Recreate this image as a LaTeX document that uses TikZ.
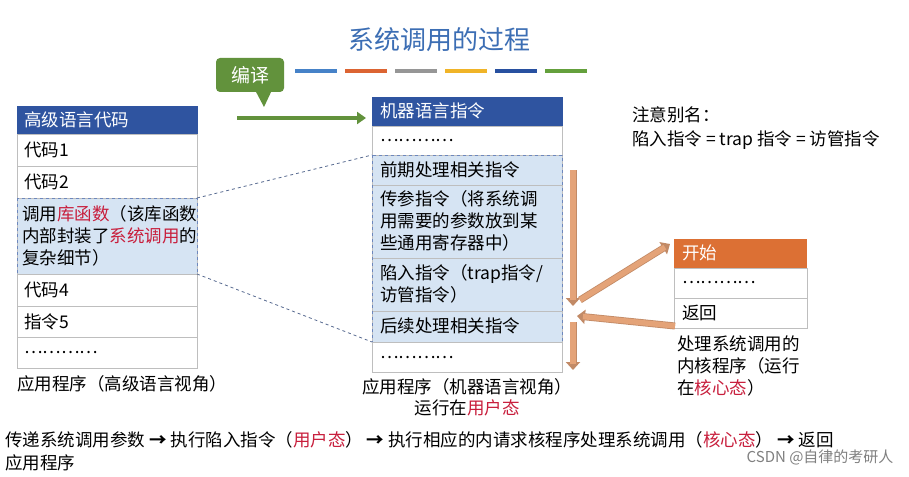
\documentclass[tikz,border=0pt]{standalone}
\usepackage{fontspec}
\setmainfont{Noto Sans CJK SC}
\usetikzlibrary{arrows.meta}
\definecolor{hblue}{RGB}{47,84,160}
\definecolor{lblue}{RGB}{214,228,243}
\definecolor{gline}{RGB}{190,190,190}
\definecolor{ggreen}{RGB}{98,146,60}
\definecolor{orng}{RGB}{228,163,120}
\definecolor{ohead}{RGB}{220,112,52}
\definecolor{kred}{RGB}{200,30,60}
\definecolor{ttl}{RGB}{60,110,180}
\definecolor{bcA}{RGB}{70,130,200}
\definecolor{bcB}{RGB}{220,100,50}
\definecolor{bcC}{RGB}{150,150,150}
\definecolor{bcD}{RGB}{240,180,40}
\definecolor{bcE}{RGB}{40,80,160}
\definecolor{bcF}{RGB}{100,160,60}
\tikzset{
 cell/.style={draw=gline,fill=white,line width=0.6pt},
 hdr/.style={fill=hblue,draw=hblue},
 hl/.style={fill=lblue,draw=gline},
 txt/.style={anchor=west,inner sep=0pt,font=\fontsize{17.5}{22}\selectfont},
 htxt/.style={txt,text=white},
}
\newcommand{\rd}[1]{\textcolor{kred}{#1}}
\begin{document}
\begin{tikzpicture}[x=1pt,y=-1pt]
\useasboundingbox (0,0) rectangle (909,476);
\fill[white] (0,0) rectangle (909,476);
\node[text=ttl,font=\fontsize{26}{30}\selectfont] (title) at (439,40) {系统调用的过程};
\foreach \x/\c in {295/bcA,345/bcB,395/bcC,445/bcD,495/bcE,545/bcF}{
 \fill[\c] (\x,69) rectangle ++(42,4);
}
% left table
\fill[hdr] (17,106) rectangle (197,134);
\node[htxt] (lh) at (24,120) {高级语言代码};
\draw[cell] (17,134) rectangle (197,166); \node[txt] (l1) at (24,150) {代码1};
\draw[cell] (17,166) rectangle (197,198); \node[txt] (l2) at (24,182) {代码2};
\draw[hl] (17,198) rectangle (197,274);
\draw[dashed,draw=hblue!70,line width=0.8pt] (17,198) rectangle (197,274);
\node[txt,align=left] (l3) at (22,236) {调用\rd{库函数}（该库函数\\内部封装了\rd{系统调用}的\\复杂细节）};
\draw[cell] (17,274) rectangle (197,306); \node[txt] (l4) at (24,290) {代码4};
\draw[cell] (17,306) rectangle (197,337); \node[txt] (l5) at (24,322) {指令5};
\draw[cell] (17,337) rectangle (197,368); \node[txt] (l6) at (24,353) {…………};
\node[txt] (lc) at (17,384) {应用程序（高级语言视角）};
% compile arrow & callout
\coordinate (ga) at (237,118); \coordinate (gb) at (366,118);
\draw[ggreen,line width=4pt,-{Triangle[length=9pt,width=12pt]}] (ga) -- (gb);
\fill[ggreen,rounded corners=4pt] (216,58) rectangle (284,92);
\fill[ggreen] (255,90) -- (272,90) -- (264,107) -- cycle;
\node[text=white,font=\fontsize{19}{22}\selectfont] (by) at (250,75) {编译};
% middle table
\fill[hdr] (372,97) rectangle (562,126);
\node[htxt] (mh) at (380,111) {机器语言指令};
\draw[cell] (372,126) rectangle (562,155); \node[txt] (m0) at (380,141) {…………};
\draw[hl] (372,155) rectangle (562,185); \node[txt] (m1) at (380,170) {前期处理相关指令};
\draw[hl] (372,185) rectangle (562,258); \node[txt,align=left] (m2) at (380,221) {传参指令（将系统调\\用需要的参数放到某\\些通用寄存器中）};
\draw[hl] (372,258) rectangle (562,311); \node[txt,align=left] (m3) at (380,284) {陷入指令（trap指令/\\访管指令）};
\draw[hl] (372,311) rectangle (562,342); \node[txt] (m4) at (380,326) {后续处理相关指令};
\draw[dashed,draw=hblue!70,line width=0.8pt] (372,155) rectangle (562,342);
\draw[cell] (372,342) rectangle (562,372); \node[txt] (m5) at (380,358) {…………};
\node[font=\fontsize{17.5}{22}\selectfont] (mc1) at (467,387) {应用程序（机器语言视角）};
\node[font=\fontsize{17.5}{22}\selectfont] (mc2) at (467,408) {运行在\rd{用户态}};
% zoom lines
\coordinate (z1) at (197,198); \coordinate (z2) at (372,155);
\coordinate (z3) at (197,274); \coordinate (z4) at (372,342);
\draw[dashed,draw=hblue!50!gray,line width=0.8pt] (z1) -- (z2) (z3) -- (z4);
% right table
\fill[ohead] (674,239) rectangle (807,268);
\node[htxt] (rh) at (682,253) {开始};
\draw[cell] (674,268) rectangle (807,298); \node[txt] (r1) at (682,283) {…………};
\draw[cell] (674,298) rectangle (807,328); \node[txt] (r2) at (682,313) {返回};
\node[txt,align=left,anchor=north west] (rc) at (677,336) {处理系统调用的\\内核程序（运行\\在\rd{核心态}）};
% orange arrows
\coordinate (a1) at (573,170); \coordinate (a2) at (573,306);
\coordinate (b1) at (580,300); \coordinate (b2) at (670,244);
\coordinate (c1) at (675,326); \coordinate (c2) at (577,316);
\coordinate (d1) at (573,322); \coordinate (d2) at (573,370);
\foreach \p/\q in {a1/a2,b1/b2,c1/c2,d1/d2}{
 \draw[orng!85!black,line width=7pt,-{Triangle[length=8pt,width=14pt]}] (\p) -- (\q);
 \draw[orng,line width=5.4pt,shorten >=6pt] (\p) -- (\q);
}
% note
\node[txt] (n1) at (632,115) {注意别名：};
\node[txt] (n2) at (632,140) {陷入指令 = trap 指令 = 访管指令};
% bottom
\node[txt] (bt1) at (5,440) {传递系统调用参数 \textbf{→} 执行陷入指令（\rd{用户态}） \textbf{→} 执行相应的内请求核程序处理系统调用（\rd{核心态}） \textbf{→} 返回};
\node[txt] (bt2) at (5,463) {应用程序};
\node[anchor=east,text=gray,font=\fontsize{15}{18}\selectfont] (wm) at (897,457) {CSDN @自律的考研人};
\end{tikzpicture}
\end{document}
